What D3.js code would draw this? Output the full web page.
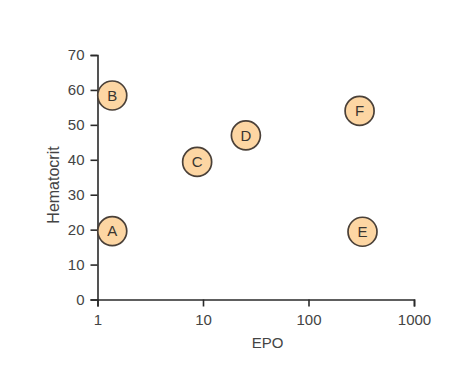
<!DOCTYPE html>
<html><head><meta charset="utf-8">
<script src="https://cdn.jsdelivr.net/npm/d3@7"></script>
<style>body{margin:0;background:#fff}svg{display:block}</style>
</head><body>
<script>
const labels = ["A","B","C","D","E","F"];
const epo = [1.38, 1.38, 8.8, 25.5, 325, 305];
const hematocrit = [19.6, 58.4, 39.4, 47.0, 19.4, 54.0];
const xTicks = [1, 10, 100, 1000];
const yTicks = [0,10,20,30,40,50,60,70];

const W = 474, H = 372;
const svg = d3.select("body").append("svg").attr("width", W).attr("height", H);
const x = d3.scaleLog().domain([1, 1000]).range([97.5, 414]);
const y = d3.scaleLinear().domain([0, 70]).range([299.5, 55]);
const font = "'Liberation Sans', Arial, sans-serif";

const gx = svg.append("g").attr("transform", `translate(0,${y(0)})`)
  .call(d3.axisBottom(x).tickValues(xTicks).tickFormat(d3.format("d")).tickSizeOuter(0).tickSize(7).tickPadding(8));
const gy = svg.append("g").attr("transform", `translate(${x(1)},0)`)
  .call(d3.axisLeft(y).tickValues(yTicks).tickSizeOuter(0).tickSize(7).tickPadding(6));
[gx, gy].forEach(g => {
  g.selectAll("path,line").attr("stroke", "#2a2a2a").attr("stroke-width", 1.6);
  g.selectAll("text").attr("fill", "#444").style("font-family", font).style("font-size", "15px");
});

svg.append("text").attr("x", 267.5).attr("y", 348).attr("text-anchor", "middle")
  .attr("fill", "#444").style("font-family", font).style("font-size", "15px").text("EPO");
svg.append("text").attr("transform", "translate(59,185) rotate(-90)").attr("text-anchor", "middle")
  .attr("fill", "#444").style("font-family", font).style("font-size", "16px").text("Hematocrit");

const pts = svg.append("g").selectAll("g").data(labels).join("g")
  .attr("transform", (d, i) => `translate(${x(epo[i])},${y(hematocrit[i])})`);
pts.append("circle").attr("r", 14.5).attr("fill", "#fdd6a3").attr("stroke", "#4a4038").attr("stroke-width", 1.7);
pts.append("text").attr("text-anchor", "middle").attr("dy", "0.36em")
  .attr("fill", "#3a3530").style("font-family", font).style("font-size", "15px").text(d => d);
</script>
</body></html>
